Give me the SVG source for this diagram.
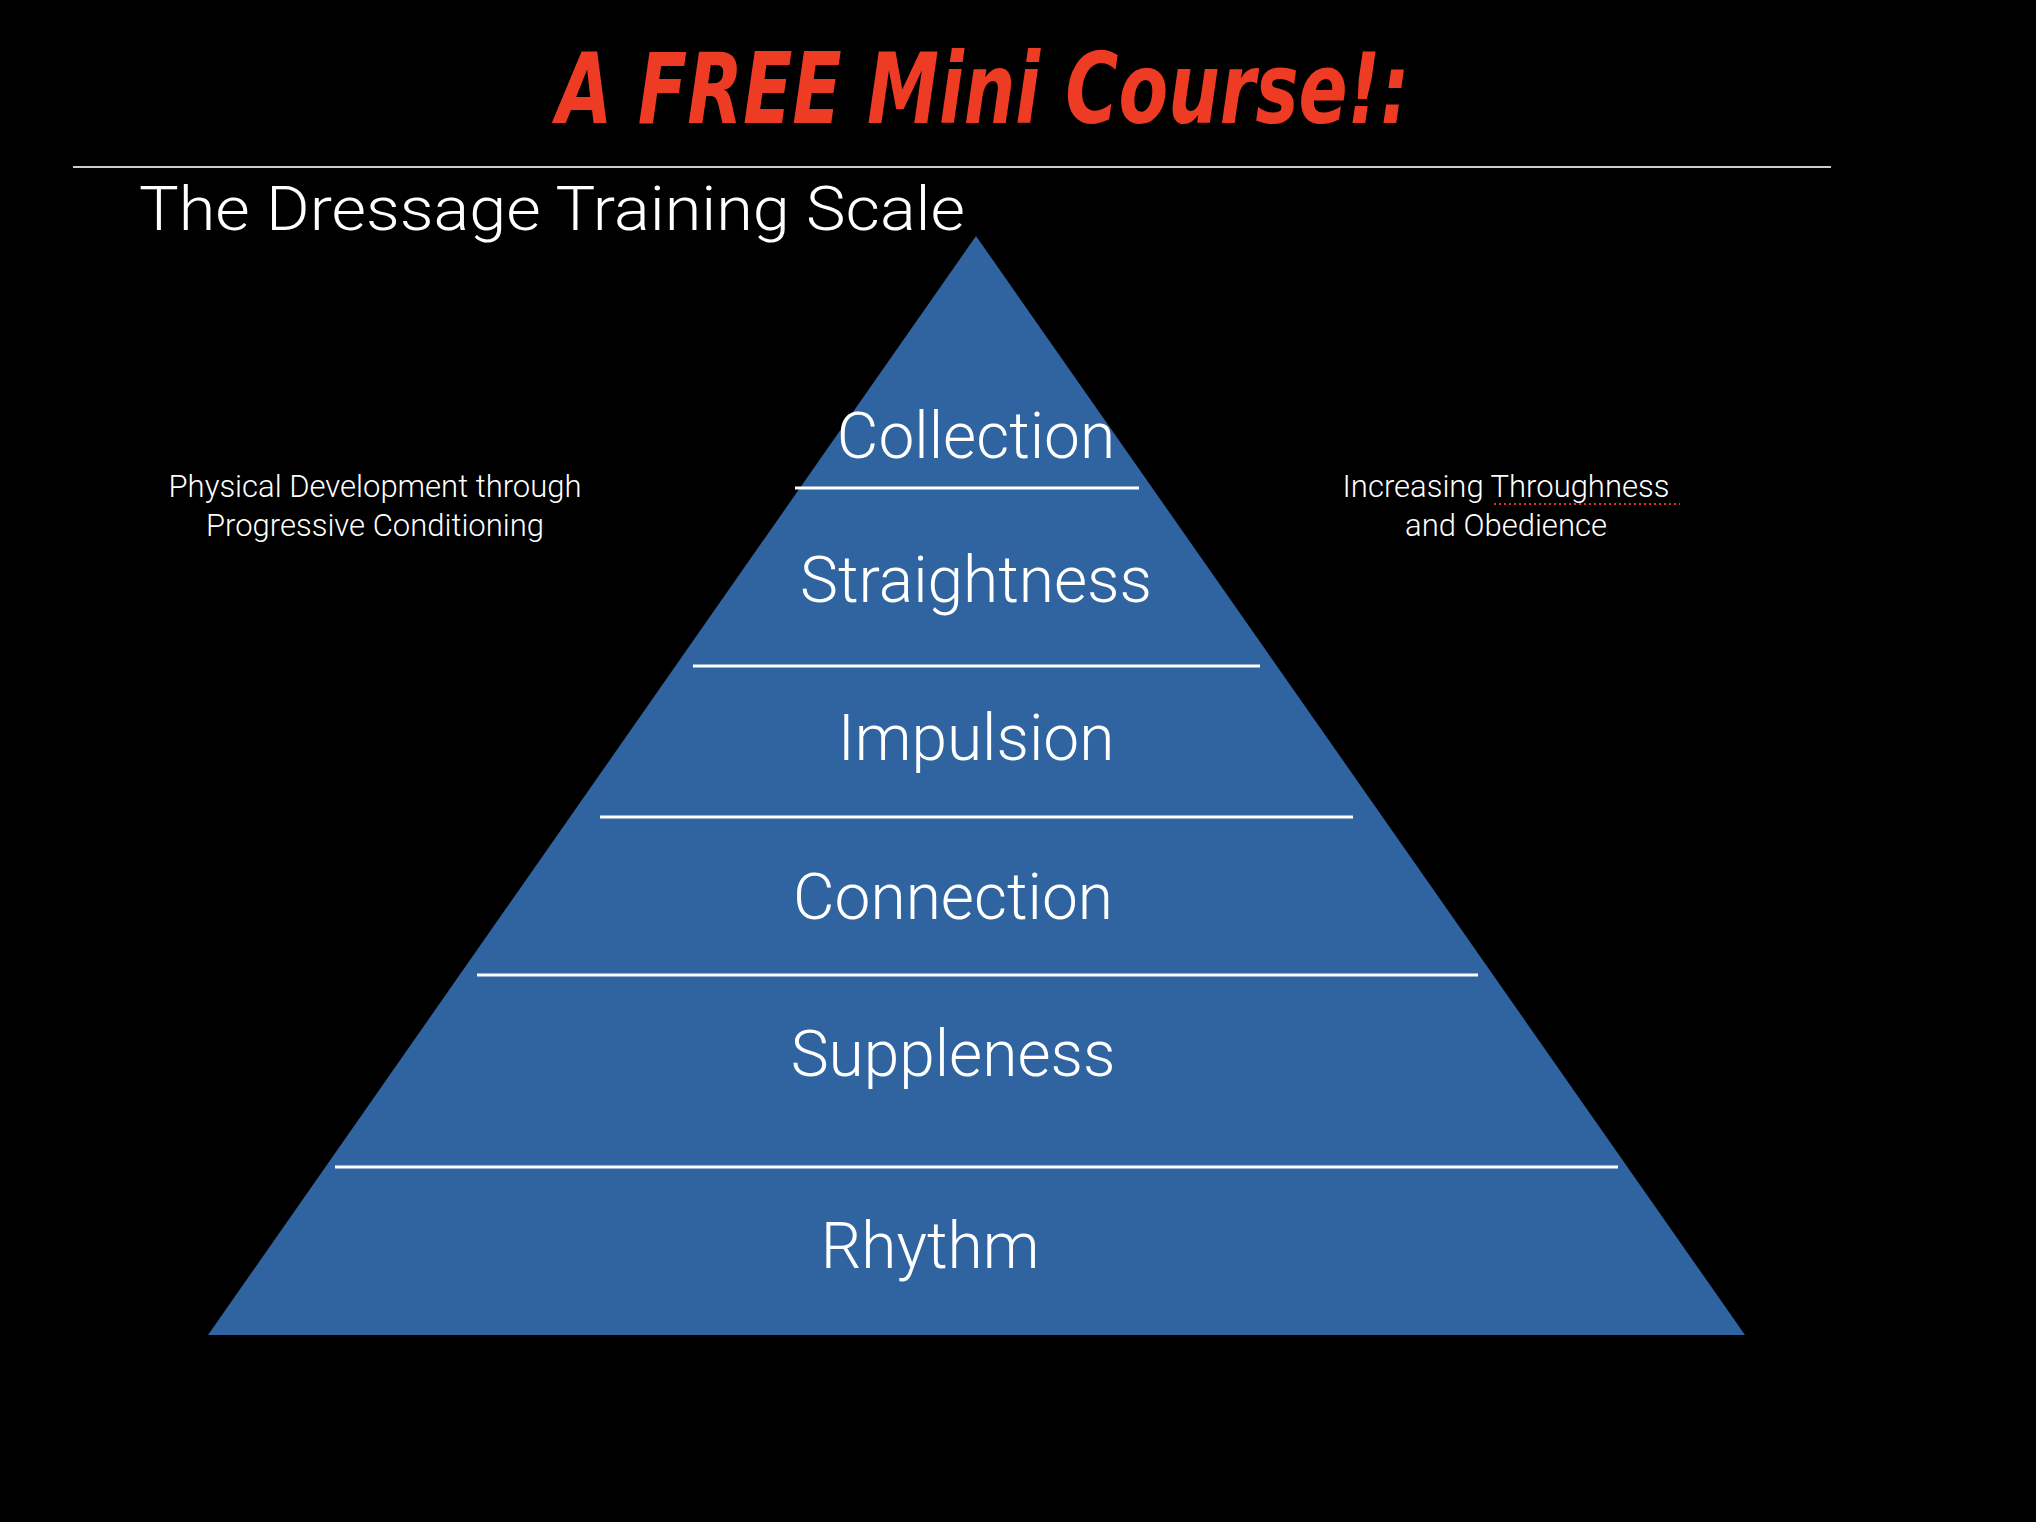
<svg xmlns="http://www.w3.org/2000/svg" width="2036" height="1522" viewBox="0 0 2036 1522">
<style>
.lvl{font-family:Roboto,"Liberation Sans",sans-serif;font-weight:300;font-size:64px;fill:#fff;text-anchor:middle}
.side{font-family:Roboto,"Liberation Sans",sans-serif;font-weight:300;font-size:31px;fill:#fff;text-anchor:middle}
.sep{stroke:#fff;stroke-width:3}
</style>
<rect width="2036" height="1522" fill="#000"/>
<g id="title">
<text x="983" y="123" font-family="'DejaVu Sans','Liberation Sans',sans-serif" font-weight="bold" font-style="italic" font-size="98" fill="#ee3b24" text-anchor="middle" textLength="853" lengthAdjust="spacingAndGlyphs">A FREE Mini Course!:</text>
<line x1="73" y1="167" x2="1831" y2="167" stroke="#ccc" stroke-width="2"/>
<text x="139" y="230" font-family="Roboto,'Liberation Sans',sans-serif" font-weight="300" font-size="62" fill="#fff" textLength="826" lengthAdjust="spacingAndGlyphs">The Dressage Training Scale</text>
</g>
<g id="pyramid">
<polygon points="976,236 1745,1335 208,1335" fill="#2f64a0"/>
</g>
<g id="connectors">
<line class="sep" x1="795" y1="488" x2="1139" y2="488"/>
<line class="sep" x1="693" y1="666" x2="1260" y2="666"/>
<line class="sep" x1="600" y1="817" x2="1353" y2="817"/>
<line class="sep" x1="477" y1="975" x2="1478" y2="975"/>
<line class="sep" x1="335" y1="1167" x2="1618" y2="1167"/>
</g>
<g id="collection"><text class="lvl" x="976" y="458">Collection</text></g>
<g id="straightness"><text class="lvl" x="976" y="602">Straightness</text></g>
<g id="impulsion"><text class="lvl" x="976" y="760">Impulsion</text></g>
<g id="connection"><text class="lvl" x="953" y="919">Connection</text></g>
<g id="suppleness"><text class="lvl" x="953" y="1076">Suppleness</text></g>
<g id="rhythm"><text class="lvl" x="930" y="1268">Rhythm</text></g>
<g id="left-note">
<text class="side" x="375" y="497">Physical Development through</text>
<text class="side" x="375" y="536">Progressive Conditioning</text>
</g>
<g id="right-note">
<text class="side" x="1506" y="497">Increasing Throughness</text>
<text class="side" x="1506" y="536">and Obedience</text>
<line x1="1494" y1="504" x2="1680" y2="504" stroke="#e03030" stroke-width="2" stroke-dasharray="2,3"/>
</g>
</svg>
